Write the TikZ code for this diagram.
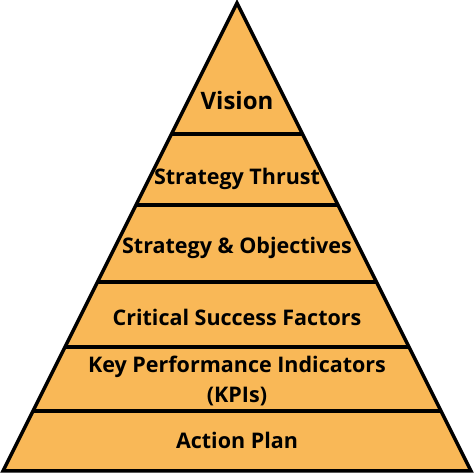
\documentclass[tikz,border=0pt]{standalone}
\usepackage{fontspec}
\setmainfont{Open Sans}
\definecolor{pyr}{HTML}{F9B857}
\begin{document}
\begin{tikzpicture}[x=1pt,y=1pt,
  lbl/.style={font=\bfseries\fontsize{21.5}{30}\selectfont, text=black, align=center, inner sep=0pt},
  big/.style={font=\bfseries\fontsize{24}{28}\selectfont, text=black, inner sep=0pt}]
\useasboundingbox (0,0) rectangle (474,474);
\coordinate (apex) at (237,471);
\coordinate (bl) at (3,3);
\coordinate (br) at (471,3);
\fill[pyr] (apex) -- (bl) -- (br) -- cycle;
\begin{scope}
\clip (apex) -- (bl) -- (br) -- cycle;
\foreach \yy in {340,269,192,127,63} \draw[line width=3.5pt] (0,\yy) -- (474,\yy);
\end{scope}
\draw[line width=3.5pt, line join=miter] (apex) -- (bl) -- (br) -- cycle;
\node[big] (vision) at (237,373) {Vision};
\node[lbl] (thrust) at (237,295) {Strategy Thrust};
\node[lbl] (obj) at (237,226) {Strategy \& Objectives};
\node[lbl] (csf) at (237,157) {Critical Success Factors};
\node[lbl] (kpi) at (237,93) {Key Performance Indicators\\(KPIs)};
\node[lbl] (plan) at (237,34) {Action Plan};
\end{tikzpicture}
\end{document}
